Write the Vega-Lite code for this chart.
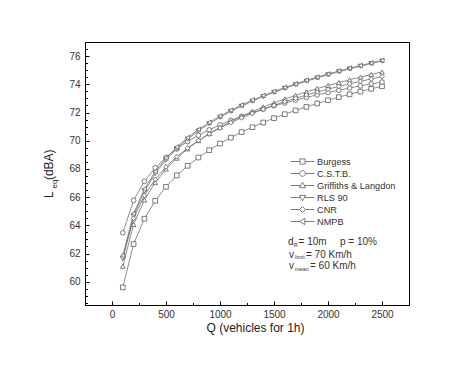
{
 "$schema": "https://vega.github.io/schema/vega-lite/v6.json",
 "width": 324, "height": 263,
 "autosize": "none",
 "padding": {"left": 85, "top": 42, "right": 65, "bottom": 61},
 "background": "white",
 "config": {
  "font": "Liberation Sans",
  "view": {"stroke": "black", "strokeWidth": 1},
  "axis": {"grid": false, "domainColor": "black", "tickColor": "black", "labelColor": "#333", "labelFont": "Liberation Sans", "labelFontSize": 10, "titleFont": "Liberation Sans", "titleFontWeight": "normal", "titleFontSize": 12, "titleColor": "#222"}
 },
 "data": {"values": [
  {"Q":100,"m":"Burgess","L":59.60},{"Q":200,"m":"Burgess","L":62.67},{"Q":300,"m":"Burgess","L":64.47},{"Q":400,"m":"Burgess","L":65.74},{"Q":500,"m":"Burgess","L":66.73},{"Q":600,"m":"Burgess","L":67.54},{"Q":700,"m":"Burgess","L":68.22},{"Q":800,"m":"Burgess","L":68.81},{"Q":900,"m":"Burgess","L":69.33},{"Q":1000,"m":"Burgess","L":69.80},{"Q":1100,"m":"Burgess","L":70.22},{"Q":1200,"m":"Burgess","L":70.61},{"Q":1300,"m":"Burgess","L":70.96},{"Q":1400,"m":"Burgess","L":71.29},{"Q":1500,"m":"Burgess","L":71.60},{"Q":1600,"m":"Burgess","L":71.88},{"Q":1700,"m":"Burgess","L":72.15},{"Q":1800,"m":"Burgess","L":72.40},{"Q":1900,"m":"Burgess","L":72.64},{"Q":2000,"m":"Burgess","L":72.87},{"Q":2100,"m":"Burgess","L":73.09},{"Q":2200,"m":"Burgess","L":73.29},{"Q":2300,"m":"Burgess","L":73.49},{"Q":2400,"m":"Burgess","L":73.68},{"Q":2500,"m":"Burgess","L":73.86},
  {"Q":100,"m":"C.S.T.B.","L":63.47},{"Q":200,"m":"C.S.T.B.","L":65.77},{"Q":300,"m":"C.S.T.B.","L":67.12},{"Q":400,"m":"C.S.T.B.","L":68.08},{"Q":500,"m":"C.S.T.B.","L":68.82},{"Q":600,"m":"C.S.T.B.","L":69.42},{"Q":700,"m":"C.S.T.B.","L":69.94},{"Q":800,"m":"C.S.T.B.","L":70.38},{"Q":900,"m":"C.S.T.B.","L":70.77},{"Q":1000,"m":"C.S.T.B.","L":71.12},{"Q":1100,"m":"C.S.T.B.","L":71.44},{"Q":1200,"m":"C.S.T.B.","L":71.73},{"Q":1300,"m":"C.S.T.B.","L":71.99},{"Q":1400,"m":"C.S.T.B.","L":72.24},{"Q":1500,"m":"C.S.T.B.","L":72.47},{"Q":1600,"m":"C.S.T.B.","L":72.68},{"Q":1700,"m":"C.S.T.B.","L":72.88},{"Q":1800,"m":"C.S.T.B.","L":73.07},{"Q":1900,"m":"C.S.T.B.","L":73.25},{"Q":2000,"m":"C.S.T.B.","L":73.42},{"Q":2100,"m":"C.S.T.B.","L":73.58},{"Q":2200,"m":"C.S.T.B.","L":73.74},{"Q":2300,"m":"C.S.T.B.","L":73.89},{"Q":2400,"m":"C.S.T.B.","L":74.03},{"Q":2500,"m":"C.S.T.B.","L":74.16},
  {"Q":100,"m":"Griffiths & Langdon","L":61.10},{"Q":200,"m":"Griffiths & Langdon","L":64.06},{"Q":300,"m":"Griffiths & Langdon","L":65.80},{"Q":400,"m":"Griffiths & Langdon","L":67.03},{"Q":500,"m":"Griffiths & Langdon","L":67.99},{"Q":600,"m":"Griffiths & Langdon","L":68.76},{"Q":700,"m":"Griffiths & Langdon","L":69.42},{"Q":800,"m":"Griffiths & Langdon","L":70.00},{"Q":900,"m":"Griffiths & Langdon","L":70.50},{"Q":1000,"m":"Griffiths & Langdon","L":70.95},{"Q":1100,"m":"Griffiths & Langdon","L":71.36},{"Q":1200,"m":"Griffiths & Langdon","L":71.73},{"Q":1300,"m":"Griffiths & Langdon","L":72.07},{"Q":1400,"m":"Griffiths & Langdon","L":72.39},{"Q":1500,"m":"Griffiths & Langdon","L":72.68},{"Q":1600,"m":"Griffiths & Langdon","L":72.96},{"Q":1700,"m":"Griffiths & Langdon","L":73.22},{"Q":1800,"m":"Griffiths & Langdon","L":73.46},{"Q":1900,"m":"Griffiths & Langdon","L":73.70},{"Q":2000,"m":"Griffiths & Langdon","L":73.91},{"Q":2100,"m":"Griffiths & Langdon","L":74.12},{"Q":2200,"m":"Griffiths & Langdon","L":74.32},{"Q":2300,"m":"Griffiths & Langdon","L":74.51},{"Q":2400,"m":"Griffiths & Langdon","L":74.70},{"Q":2500,"m":"Griffiths & Langdon","L":74.87},
  {"Q":100,"m":"RLS 90","L":61.64},{"Q":200,"m":"RLS 90","L":64.66},{"Q":300,"m":"RLS 90","L":66.42},{"Q":400,"m":"RLS 90","L":67.67},{"Q":500,"m":"RLS 90","L":68.64},{"Q":600,"m":"RLS 90","L":69.44},{"Q":700,"m":"RLS 90","L":70.11},{"Q":800,"m":"RLS 90","L":70.69},{"Q":900,"m":"RLS 90","L":71.20},{"Q":1000,"m":"RLS 90","L":71.66},{"Q":1100,"m":"RLS 90","L":72.08},{"Q":1200,"m":"RLS 90","L":72.45},{"Q":1300,"m":"RLS 90","L":72.80},{"Q":1400,"m":"RLS 90","L":73.12},{"Q":1500,"m":"RLS 90","L":73.43},{"Q":1600,"m":"RLS 90","L":73.71},{"Q":1700,"m":"RLS 90","L":73.97},{"Q":1800,"m":"RLS 90","L":74.22},{"Q":1900,"m":"RLS 90","L":74.45},{"Q":2000,"m":"RLS 90","L":74.68},{"Q":2100,"m":"RLS 90","L":74.89},{"Q":2200,"m":"RLS 90","L":75.09},{"Q":2300,"m":"RLS 90","L":75.28},{"Q":2400,"m":"RLS 90","L":75.47},{"Q":2500,"m":"RLS 90","L":75.65},
  {"Q":100,"m":"CNR","L":61.75},{"Q":200,"m":"CNR","L":64.50},{"Q":300,"m":"CNR","L":66.12},{"Q":400,"m":"CNR","L":67.26},{"Q":500,"m":"CNR","L":68.15},{"Q":600,"m":"CNR","L":68.87},{"Q":700,"m":"CNR","L":69.48},{"Q":800,"m":"CNR","L":70.01},{"Q":900,"m":"CNR","L":70.48},{"Q":1000,"m":"CNR","L":70.90},{"Q":1100,"m":"CNR","L":71.28},{"Q":1200,"m":"CNR","L":71.62},{"Q":1300,"m":"CNR","L":71.94},{"Q":1400,"m":"CNR","L":72.24},{"Q":1500,"m":"CNR","L":72.51},{"Q":1600,"m":"CNR","L":72.77},{"Q":1700,"m":"CNR","L":73.01},{"Q":1800,"m":"CNR","L":73.24},{"Q":1900,"m":"CNR","L":73.45},{"Q":2000,"m":"CNR","L":73.65},{"Q":2100,"m":"CNR","L":73.85},{"Q":2200,"m":"CNR","L":74.03},{"Q":2300,"m":"CNR","L":74.21},{"Q":2400,"m":"CNR","L":74.38},{"Q":2500,"m":"CNR","L":74.54},
  {"Q":100,"m":"NMPB","L":61.85},{"Q":200,"m":"NMPB","L":64.83},{"Q":300,"m":"NMPB","L":66.57},{"Q":400,"m":"NMPB","L":67.81},{"Q":500,"m":"NMPB","L":68.77},{"Q":600,"m":"NMPB","L":69.55},{"Q":700,"m":"NMPB","L":70.22},{"Q":800,"m":"NMPB","L":70.79},{"Q":900,"m":"NMPB","L":71.30},{"Q":1000,"m":"NMPB","L":71.75},{"Q":1100,"m":"NMPB","L":72.16},{"Q":1200,"m":"NMPB","L":72.53},{"Q":1300,"m":"NMPB","L":72.88},{"Q":1400,"m":"NMPB","L":73.20},{"Q":1500,"m":"NMPB","L":73.49},{"Q":1600,"m":"NMPB","L":73.77},{"Q":1700,"m":"NMPB","L":74.03},{"Q":1800,"m":"NMPB","L":74.28},{"Q":1900,"m":"NMPB","L":74.51},{"Q":2000,"m":"NMPB","L":74.73},{"Q":2100,"m":"NMPB","L":74.94},{"Q":2200,"m":"NMPB","L":75.14},{"Q":2300,"m":"NMPB","L":75.33},{"Q":2400,"m":"NMPB","L":75.51},{"Q":2500,"m":"NMPB","L":75.69}
 ]},
 "resolve": {"scale": {"shape": "independent"}, "axis": {"x": "independent", "y": "independent"}},
 "layer": [
  {
   "mark": {"type": "line", "stroke": "#707070", "strokeWidth": 0.8},
   "encoding": {
    "x": {"field": "Q", "type": "quantitative", "scale": {"domain": [-250, 2750], "nice": false, "zero": false},
          "axis": {"orient": "bottom", "values": [0, 500, 1000, 1500, 2000, 2500], "format": "d", "tickSize": -4, "labelPadding": 8, "title": "Q (vehicles for 1h)", "titlePadding": 3, "titleX": 170, "labelFlush": false}},
    "y": {"field": "L", "type": "quantitative", "scale": {"domain": [58.35, 77], "nice": false, "zero": false},
          "axis": {"orient": "left", "values": [60, 62, 64, 66, 68, 70, 72, 74, 76], "tickSize": -4, "labelPadding": 9, "title": null, "labelFlush": false}},
    "detail": {"field": "m"},
    "order": {"field": "Q"}
   }
  },
  {
   "mark": {"type": "point", "filled": true, "fill": "white", "stroke": "#5a5a5a", "strokeWidth": 0.8, "size": 22, "opacity": 1},
   "encoding": {
    "x": {"field": "Q", "type": "quantitative", "axis": {"orient": "bottom", "values": [250, 750, 1250, 1750, 2250], "labels": false, "tickSize": -2.5, "domain": false, "title": null}},
    "y": {"field": "L", "type": "quantitative", "axis": {"orient": "left", "values": [58.5, 59, 59.5, 60.5, 61, 61.5, 62.5, 63, 63.5, 64.5, 65, 65.5, 66.5, 67, 67.5, 68.5, 69, 69.5, 70.5, 71, 71.5, 72.5, 73, 73.5, 74.5, 75, 75.5, 76.5], "labels": false, "tickSize": -2.5, "domain": false, "title": null}},
    "shape": {"field": "m", "type": "nominal", "scale": {"domain": ["Burgess", "C.S.T.B.", "Griffiths & Langdon", "RLS 90", "CNR", "NMPB"], "range": ["square", "circle", "triangle-up", "triangle-down", "diamond", "triangle-left"]}, "legend": null}
   }
  },
  {
   "mark": {"type": "point", "filled": false, "opacity": 0},
   "encoding": {
    "x": {"field": "Q", "type": "quantitative", "axis": null},
    "y": {"field": "L", "type": "quantitative", "axis": null},
    "shape": {"field": "m", "type": "nominal",
     "scale": {"domain": ["Burgess", "C.S.T.B.", "Griffiths & Langdon", "RLS 90", "CNR", "NMPB"],
      "range": [
       "M-2,0H-0.43M0.43,0H2M-0.43,-0.43H0.43V0.43H-0.43Z",
       "M-2,0H-0.47M0.47,0H2M0.47,0A0.47,0.47,0,1,1,-0.47,0A0.47,0.47,0,1,1,0.47,0Z",
       "M-2,0H-0.31M0.31,0H2M0,-0.55L0.52,0.36L-0.52,0.36Z",
       "M-2,0H-0.31M0.31,0H2M0,0.55L0.52,-0.36L-0.52,-0.36Z",
       "M-2,0H-0.5M0.5,0H2M0,-0.5L0.5,0L0,0.5L-0.5,0Z",
       "M-2,0H-0.52M0.4,0H2M-0.52,0L0.4,-0.52L0.4,0.52Z"
      ]},
     "legend": {"title": null, "orient": "none", "legendX": 211, "legendY": 113, "symbolSize": 144, "symbolOpacity": 1, "symbolStrokeColor": "#5a5a5a", "symbolFillColor": "white", "symbolStrokeWidth": 0.8, "labelFontSize": 9.2, "labelFont": "Liberation Sans", "labelColor": "#333", "labelOffset": 8, "rowPadding": 0}
    }
   }
  },
  {"data": {"values": [{}]}, "mark": {"type": "text", "text": "d", "fontSize": 10, "align": "left", "baseline": "middle", "color": "#333"}, "encoding": {"x": {"datum": 1630, "type": "quantitative", "axis": null}, "y": {"datum": 62.84, "type": "quantitative", "axis": null}}},
  {"data": {"values": [{}]}, "mark": {"type": "text", "text": "R", "fontSize": 5.5, "align": "left", "baseline": "middle", "color": "#333"}, "encoding": {"x": {"datum": 1682, "type": "quantitative", "axis": null}, "y": {"datum": 62.6, "type": "quantitative", "axis": null}}},
  {"data": {"values": [{}]}, "mark": {"type": "text", "text": "= 10m", "fontSize": 10, "align": "left", "baseline": "middle", "color": "#333"}, "encoding": {"x": {"datum": 1728, "type": "quantitative", "axis": null}, "y": {"datum": 62.84, "type": "quantitative", "axis": null}}},
  {"data": {"values": [{}]}, "mark": {"type": "text", "text": "p = 10%", "fontSize": 10, "align": "left", "baseline": "middle", "color": "#333"}, "encoding": {"x": {"datum": 2111, "type": "quantitative", "axis": null}, "y": {"datum": 62.84, "type": "quantitative", "axis": null}}},
  {"data": {"values": [{}]}, "mark": {"type": "text", "text": "v", "fontSize": 10, "align": "left", "baseline": "middle", "color": "#333"}, "encoding": {"x": {"datum": 1639, "type": "quantitative", "axis": null}, "y": {"datum": 61.89, "type": "quantitative", "axis": null}}},
  {"data": {"values": [{}]}, "mark": {"type": "text", "text": "limit", "fontSize": 5.5, "align": "left", "baseline": "middle", "color": "#333"}, "encoding": {"x": {"datum": 1694, "type": "quantitative", "axis": null}, "y": {"datum": 61.72, "type": "quantitative", "axis": null}}},
  {"data": {"values": [{}]}, "mark": {"type": "text", "text": "= 70 Km/h", "fontSize": 10, "align": "left", "baseline": "middle", "color": "#333"}, "encoding": {"x": {"datum": 1796, "type": "quantitative", "axis": null}, "y": {"datum": 61.89, "type": "quantitative", "axis": null}}},
  {"data": {"values": [{}]}, "mark": {"type": "text", "text": "v", "fontSize": 10, "align": "left", "baseline": "middle", "color": "#333"}, "encoding": {"x": {"datum": 1639, "type": "quantitative", "axis": null}, "y": {"datum": 61.11, "type": "quantitative", "axis": null}}},
  {"data": {"values": [{}]}, "mark": {"type": "text", "text": "mean", "fontSize": 5.5, "align": "left", "baseline": "middle", "color": "#333"}, "encoding": {"x": {"datum": 1694, "type": "quantitative", "axis": null}, "y": {"datum": 60.87, "type": "quantitative", "axis": null}}},
  {"data": {"values": [{}]}, "mark": {"type": "text", "text": "= 60 Km/h", "fontSize": 10, "align": "left", "baseline": "middle", "color": "#333"}, "encoding": {"x": {"datum": 1833, "type": "quantitative", "axis": null}, "y": {"datum": 61.11, "type": "quantitative", "axis": null}}},
  {"data": {"values": [{}]}, "mark": {"type": "text", "text": "L", "fontSize": 12, "angle": 270, "align": "left", "baseline": "middle", "color": "#222"}, "encoding": {"x": {"datum": -583, "type": "quantitative", "axis": null}, "y": {"datum": 65.94, "type": "quantitative", "axis": null}}},
  {"data": {"values": [{}]}, "mark": {"type": "text", "text": "eq", "fontSize": 8, "angle": 270, "align": "left", "baseline": "middle", "color": "#222"}, "encoding": {"x": {"datum": -528, "type": "quantitative", "axis": null}, "y": {"datum": 66.61, "type": "quantitative", "axis": null}}},
  {"data": {"values": [{}]}, "mark": {"type": "text", "text": "(dBA)", "fontSize": 12, "angle": 270, "align": "left", "baseline": "middle", "color": "#222"}, "encoding": {"x": {"datum": -583, "type": "quantitative", "axis": null}, "y": {"datum": 67.21, "type": "quantitative", "axis": null}}}
 ]
}
